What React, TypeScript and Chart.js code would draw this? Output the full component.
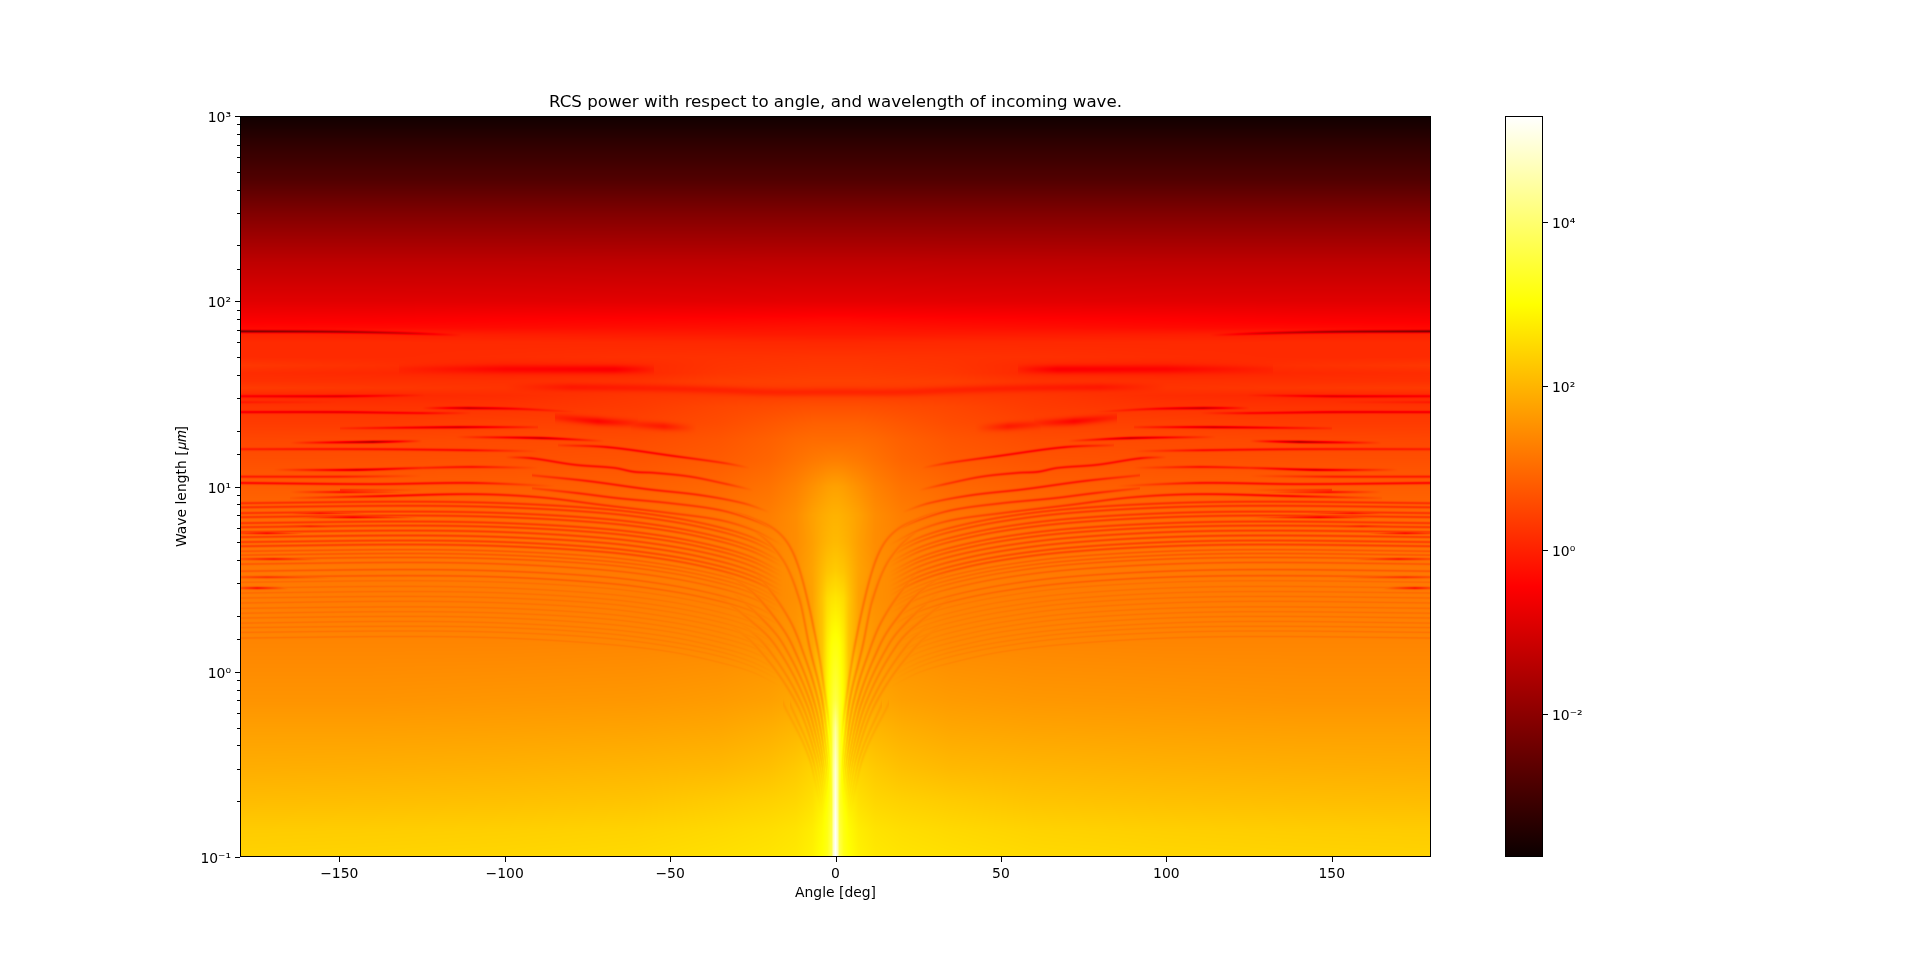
import React, { useEffect, useRef } from "react";
import { Chart, registerables } from "chart.js";

Chart.register(...registerables);

const titleText = "RCS power with respect to angle, and wavelength of incoming wave.";
const xLabel = "Angle [deg]";
const yLabel = "Wave length [𝜇𝑚]";
const xTicks = [-150, -100, -50, 0, 50, 100, 150];
const colorbarTicks = [0.01, 1, 100, 10000];
const colorMin = 1.82e-4;
const colorMax = 1.95e5;

// |angle| columns of the power table (the picture is mirror-symmetric about 0)
const heatAngles = [0, 0.6, 1.2, 2.5, 4, 7, 12, 20, 35, 60, 100, 140, 180];
const heatWavelengths = [1000, 700, 450, 300, 163, 100, 80, 72, 66, 60, 50, 45, 41, 37, 34, 31, 27, 22, 18, 14, 10, 7, 5, 3.5, 2.5, 1.4, 0.7, 0.5, 0.3, 0.2, 0.14, 0.1];
const heatLogPower = [
  [-3.66, -3.66, -3.66, -3.66, -3.66, -3.66, -3.66, -3.66, -3.66, -3.66, -3.66, -3.66, -3.66],
  [-3.23, -3.23, -3.23, -3.23, -3.23, -3.23, -3.23, -3.23, -3.23, -3.23, -3.23, -3.23, -3.23],
  [-2.78, -2.78, -2.78, -2.78, -2.78, -2.78, -2.78, -2.78, -2.78, -2.78, -2.78, -2.78, -2.78],
  [-2.16, -2.16, -2.16, -2.16, -2.16, -2.16, -2.16, -2.16, -2.16, -2.16, -2.16, -2.16, -2.16],
  [-1.3, -1.3, -1.3, -1.3, -1.3, -1.3, -1.3, -1.3, -1.31, -1.31, -1.32, -1.32, -1.32],
  [-0.8, -0.8, -0.8, -0.8, -0.8, -0.8, -0.8, -0.81, -0.82, -0.83, -0.84, -0.85, -0.85],
  [-0.35, -0.35, -0.35, -0.35, -0.35, -0.36, -0.37, -0.38, -0.4, -0.42, -0.45, -0.5, -0.52],
  [-0.2, -0.2, -0.2, -0.2, -0.2, -0.2, -0.21, -0.22, -0.24, -0.26, -0.3, -0.33, -0.35],
  [-0.1, -0.1, -0.1, -0.1, -0.1, -0.1, -0.1, -0.1, -0.09, -0.08, -0.05, 0, 0.02],
  [0.08, 0.08, 0.08, 0.08, 0.08, 0.08, 0.09, 0.09, 0.1, 0.1, 0.11, 0.12, 0.12],
  [0.25, 0.25, 0.25, 0.25, 0.25, 0.25, 0.24, 0.23, 0.22, 0.2, 0.15, 0.12, 0.12],
  [0.3, 0.3, 0.3, 0.3, 0.3, 0.3, 0.29, 0.28, 0.25, 0.12, 0.05, 0.2, 0.3],
  [0.35, 0.35, 0.35, 0.35, 0.35, 0.35, 0.34, 0.32, 0.28, 0.1, 0.05, 0.1, 0.15],
  [0.42, 0.42, 0.42, 0.42, 0.42, 0.42, 0.41, 0.4, 0.38, 0.25, 0.2, 0.2, 0.2],
  [0.38, 0.38, 0.38, 0.38, 0.38, 0.38, 0.38, 0.37, 0.36, 0.3, 0.25, 0.3, 0.35],
  [0.42, 0.42, 0.42, 0.42, 0.42, 0.42, 0.41, 0.4, 0.36, 0.3, 0.15, 0.1, 0.1],
  [0.62, 0.62, 0.62, 0.62, 0.62, 0.62, 0.6, 0.56, 0.5, 0.35, 0.25, 0.25, 0.25],
  [0.85, 0.85, 0.85, 0.85, 0.85, 0.84, 0.8, 0.72, 0.58, 0.45, 0.42, 0.35, 0.35],
  [1.0, 1.0, 1.0, 1.0, 1.0, 1.0, 0.96, 0.85, 0.7, 0.58, 0.55, 0.52, 0.5],
  [1.25, 1.25, 1.25, 1.24, 1.22, 1.18, 1.08, 0.92, 0.78, 0.68, 0.64, 0.62, 0.62],
  [1.72, 1.72, 1.71, 1.68, 1.62, 1.5, 1.3, 1.1, 0.95, 0.85, 0.82, 0.8, 0.8],
  [1.95, 1.95, 1.94, 1.9, 1.85, 1.72, 1.45, 1.25, 1.12, 1.03, 1.0, 0.98, 0.98],
  [2.05, 2.05, 2.03, 1.98, 1.9, 1.7, 1.45, 1.32, 1.22, 1.16, 1.14, 1.12, 1.12],
  [2.3, 2.28, 2.25, 2.2, 2.05, 1.75, 1.5, 1.36, 1.27, 1.22, 1.2, 1.18, 1.18],
  [2.65, 2.62, 2.6, 2.5, 2.2, 1.72, 1.5, 1.38, 1.3, 1.26, 1.24, 1.23, 1.23],
  [3.1, 3.08, 3.02, 2.75, 2.2, 1.78, 1.6, 1.5, 1.42, 1.38, 1.36, 1.36, 1.36],
  [3.6, 3.5, 3.3, 2.9, 2.3, 1.98, 1.82, 1.72, 1.65, 1.6, 1.58, 1.55, 1.55],
  [4.4, 4.0, 3.4, 3.0, 2.4, 2.12, 2.0, 1.9, 1.8, 1.75, 1.72, 1.7, 1.7],
  [4.9, 4.4, 3.5, 3.0, 2.65, 2.4, 2.27, 2.15, 2.05, 2.0, 1.95, 1.92, 1.9],
  [5.1, 4.5, 3.5, 3.1, 2.8, 2.58, 2.45, 2.38, 2.3, 2.2, 2.15, 2.12, 2.1],
  [5.25, 4.7, 3.6, 3.15, 2.95, 2.75, 2.62, 2.55, 2.48, 2.4, 2.35, 2.32, 2.3],
  [5.29, 4.8, 3.7, 3.2, 3.02, 2.82, 2.7, 2.64, 2.58, 2.5, 2.45, 2.42, 2.4],
];

// Fringes: [ |angles| ], [ wavelengths ], [ dip of log10(power) ]
type Fringe = [number[], number[], number[]];
const broadFringes: Fringe[] = [
  [[132, 100, 67, 55], [43, 43, 42.9, 42.9], [0.1, 0.45, 0.6, 0.15]],
  [[0, 20, 35, 55, 80, 100], [32.3, 32.3, 33.1, 33.9, 34.3, 34.3], [0.35, 0.35, 0.35, 0.35, 0.4, 0]],
  [[85, 72, 60], [23.6, 22.5, 21.9], [0.3, 0.8, 0.3]],
  [[62, 52, 42], [21.7, 21.1, 20.6], [0.3, 0.6, 0]],
];
const strongFringes: Fringe[] = [
  [[180, 150, 130, 113], [68.8, 68.4, 67.2, 65.5], [2, 1.5, 0.9, 0]],
  [[180, 150, 124], [30.7, 30.7, 31.1], [0.6, 0.9, 0]],
  [[180, 150], [28.5, 28.5], [0.3, 0]],
  [[180, 150, 125, 110], [25.2, 25.2, 24.9, 24.9], [0.9, 1, 0.7, 0]],
  [[125, 111, 95, 78], [26.5, 26.5, 26.2, 25.2], [0, 1.4, 0.6, 0]],
  [[150, 114, 90], [20.6, 20.9, 20.9], [0.2, 1.4, 0.2]],
  [[165, 140, 125], [17.2, 17.4, 17.6], [0, 2, 0]],
  [[115, 89, 70], [18.5, 18.25, 17.6], [0, 1.6, 0]],
  [[84, 69, 49, 34, 26], [16.7, 16.3, 14.6, 13.4, 12.6], [0.2, 1, 1, 0.6, 0]],
  [[180, 140, 111, 90], [15.9, 15.9, 15.7, 15.5], [0.6, 0.8, 0.9, 0]],
  [[100, 92, 79, 67, 61, 55, 44, 33, 25], [14.4, 14.2, 13.1, 12.6, 12.0, 11.85, 11.3, 10.3, 9.55], [0, 0.9, 0.9, 0.9, 1, 0.9, 0.8, 0.6, 0]],
  [[92, 75, 57, 41, 28, 20], [11.5, 10.7, 9.67, 8.98, 8.12, 7.27], [0.4, 0.9, 0.9, 0.8, 0.5, 0]],
  [[170, 145, 125, 110, 90], [12.3, 12.3, 12.6, 12.75, 12.6], [0, 1.6, 0.6, 0.9, 0]],
  [[180, 140, 110, 85], [10.45, 10.3, 10.45, 10.05], [1.1, 1, 1, 0]],
  [[92, 78, 66, 50, 35, 25, 17], [9.79, 9.2, 8.65, 8.12, 7.45, 6.58, 5.67], [0.3, 0.8, 0.8, 0.7, 0.6, 0.4, 0]],
  [[165, 138, 110, 90, 70, 50, 35, 25, 16], [8.65, 8.87, 9.09, 8.76, 7.92, 7.18, 6.58, 5.81, 4.82], [0.1, 1.2, 1, 0.8, 0.7, 0.6, 0.5, 0.3, 0]],
  [[180, 150, 125], [11.3, 11.3, 11.4], [0.8, 0.8, 0]],
  [[150, 125], [9.55, 9.55], [0.8, 0]],
  // short dark spots near the ±180° edges
  [[165, 149, 130], [9.33, 9.33, 9.33], [0, 1.1, 0]],
  [[170, 156, 140], [7.18, 7.18, 7.18], [0, 1.2, 0]],
  [[165, 146, 125], [6.83, 6.83, 6.83], [0, 1.5, 0]],
  [[175, 159, 140], [6.1, 6.1, 6.1], [0, 1, 0]],
  [[180, 172, 160], [5.6, 5.6, 5.6], [0.6, 1.4, 0]],
  [[180, 170, 155], [4.06, 4.06, 4.06], [0.5, 1.2, 0]],
  [[180, 172, 150], [3.24, 3.24, 3.24], [0.5, 0.9, 0]],
  [[180, 175, 165], [2.83, 2.83, 2.83], [0.6, 1.4, 0]],
];
const fringeAngles = [180, 130, 100, 70, 50, 35, 25, 16];
const mediumDips = [0.7, 0.7, 0.7, 0.65, 0.6, 0.5, 0.35, 0];
const weakDips = [0.4, 0.4, 0.4, 0.35, 0.3, 0.25, 0.15, 0];
const faintDips = [0.22, 0.2, 0.18, 0.16, 0.14, 0.12, 0.08, 0];
const mediumFringes = [
  [8.12, 8.28, 8.12, 7.55, 6.82, 6.01, 5.28, 4.38],
  [7.72, 7.87, 7.72, 7.18, 6.48, 5.71, 5.02, 4.17],
  [7.18, 7.32, 7.18, 6.68, 6.03, 5.31, 4.67, 3.88],
  [6.83, 6.97, 6.83, 6.35, 5.74, 5.05, 4.44, 3.69],
  [6.34, 6.47, 6.34, 5.9, 5.33, 4.69, 4.12, 3.42],
  [6.03, 6.15, 6.03, 5.61, 5.07, 4.46, 3.92, 3.26],
  [5.67, 5.78, 5.67, 5.27, 4.76, 4.2, 3.69, 3.06],
  [5.33, 5.44, 5.33, 4.96, 4.48, 3.94, 3.46, 2.88],
  [5.01, 5.11, 5.01, 4.66, 4.21, 3.71, 3.26, 2.71],
  [4.76, 4.86, 4.76, 4.43, 4.0, 3.52, 3.09, 2.57],
];
const weakFringes = [
  [4.47, 4.56, 4.47, 4.16, 3.75, 3.31, 2.91, 2.41],
  [4.26, 4.35, 4.26, 3.96, 3.58, 3.15, 2.77, 2.3],
  [4.06, 4.14, 4.06, 3.78, 3.41, 3.0, 2.64, 2.19],
  [3.81, 3.89, 3.81, 3.54, 3.2, 2.82, 2.48, 2.06],
  [3.49, 3.56, 3.49, 3.25, 2.93, 2.58, 2.27, 1.88],
  [3.24, 3.3, 3.24, 3.01, 2.72, 2.4, 2.11, 1.75],
];
const faintFringes = [
  [3.04, 3.1, 3.04, 2.83, 2.55, 2.25, 1.98, 1.64],
  [2.83, 2.89, 2.83, 2.63, 2.38, 2.09, 1.84, 1.53],
  [2.66, 2.71, 2.66, 2.47, 2.23, 1.97, 1.73, 1.44],
  [2.5, 2.55, 2.5, 2.33, 2.1, 1.85, 1.63, 1.35],
  [2.35, 2.4, 2.35, 2.19, 1.97, 1.74, 1.53, 1.27],
  [2.2, 2.24, 2.2, 2.05, 1.85, 1.63, 1.43, 1.19],
  [2.07, 2.11, 2.07, 1.93, 1.74, 1.53, 1.35, 1.12],
  [1.95, 1.99, 1.95, 1.81, 1.64, 1.44, 1.27, 1.05],
  [1.83, 1.87, 1.83, 1.7, 1.54, 1.35, 1.19, 0.99],
  [1.73, 1.76, 1.73, 1.61, 1.45, 1.28, 1.12, 0.93],
  [1.63, 1.66, 1.63, 1.52, 1.37, 1.21, 1.06, 0.88],
  [1.52, 1.55, 1.52, 1.41, 1.28, 1.12, 0.99, 0.82],
];
const centreArcs: Fringe[] = [
  [[50, 35, 25, 16, 11, 5.6, 2.3, 1], [7.92, 7.45, 6.71, 5.33, 3.53, 1.36, 0.569, 0.364], [0, 0.12, 0.22, 0.35, 0.45, 0.55, 0.4, 0]],
  [[35, 25, 16, 11, 8, 4, 2, 1], [6.58, 5.81, 4.0, 2.43, 1.36, 0.677, 0.338, 0.168], [0, 0.15, 0.3, 0.4, 0.5, 0.55, 0.35, 0]],
  [[30, 20, 14, 10.5, 5.2, 2.6, 1.3], [4.53, 2.76, 1.9, 1.36, 0.677, 0.338, 0.168], [0, 0.22, 0.36, 0.42, 0.5, 0.4, 0]],
  [[40, 26, 18, 13, 6.5, 3.2, 1.6], [4.0, 2.76, 1.9, 1.36, 0.677, 0.338, 0.168], [0, 0.2, 0.32, 0.38, 0.45, 0.4, 0]],
  [[32, 22, 15.5, 7.7, 3.9, 1.9], [2.76, 1.9, 1.36, 0.677, 0.338, 0.168], [0, 0.25, 0.32, 0.4, 0.35, 0]],
  [[38, 26, 18, 9, 4.5, 2.2], [2.76, 1.9, 1.36, 0.677, 0.338, 0.168], [0, 0.2, 0.28, 0.35, 0.35, 0]],
  [[30, 21, 10.5, 5.2, 2.6], [1.9, 1.36, 0.677, 0.338, 0.168], [0, 0.2, 0.3, 0.3, 0]],
  [[34, 24, 12, 6, 3], [1.9, 1.36, 0.677, 0.338, 0.168], [0, 0.16, 0.25, 0.28, 0]],
  [[14, 7, 3.5], [0.677, 0.338, 0.168], [0.18, 0.25, 0]],
  [[16, 8, 4], [0.677, 0.338, 0.168], [0.14, 0.2, 0]],
];

const FONT = "'DejaVu Sans', sans-serif";
const TICK_SIZE = 13.9;
const AXES = { left: 240, right: 1431, top: 116, bottom: 857 };
const COLORBAR = { left: 1505, right: 1543 };

const rowsOf = (rows: number[][], dips: number[]): Fringe[] => rows.map((r) => [fringeAngles, r, dips]);
// each group: its fringes and their half-thickness in pixels
const fringeGroups: [Fringe[], number][] = [
  [broadFringes, 4],
  [strongFringes, 1.4],
  [rowsOf(mediumFringes, mediumDips), 1.4],
  [rowsOf(weakFringes, weakDips), 1.2],
  [rowsOf(faintFringes, faintDips), 1.05],
  [centreArcs, 1.5],
];

function hot(t: number): [number, number, number] {
  const c = Math.max(0, Math.min(1, t));
  const r = c < 0.365 ? 0.0416 + (c / 0.365) * 0.9584 : 1;
  const g = c < 0.365 ? 0 : c < 0.746 ? (c - 0.365) / 0.381 : 1;
  const b = c < 0.746 ? 0 : (c - 0.746) / 0.254;
  return [r * 255, g * 255, b * 255];
}

function bracket(list: number[], value: number, descending: boolean) {
  for (let i = 0; i < list.length - 1; i++) {
    const a = list[i];
    const b = list[i + 1];
    if (descending ? value >= b : value <= b) return [i, (value - a) / (b - a)];
  }
  return [list.length - 2, 1];
}

const logWavelengths = heatWavelengths.map(Math.log10);

function shadedLogPower(angle: number, logWavelength: number) {
  const [c, u] = bracket(heatAngles, Math.abs(angle), false);
  const [r, v] = bracket(logWavelengths, logWavelength, true);
  const top = heatLogPower[r][c] * (1 - u) + heatLogPower[r][c + 1] * u;
  const low = heatLogPower[r + 1][c] * (1 - u) + heatLogPower[r + 1][c + 1] * u;
  return top * (1 - v) + low * v;
}

const heatmapPlugin = {
  id: "heatmap",
  beforeDatasetsDraw(chart: any) {
    const { ctx, chartArea: a, scales } = chart;
    const w = Math.round(a.right - a.left);
    const h = Math.round(a.bottom - a.top);
    const x0 = Math.round(a.left);
    const y0 = Math.round(a.top);
    const dip = new Float32Array(w * h);
    const xs = scales.x;
    const ys = scales.y;
    for (const [fringes, sigma] of fringeGroups) {
      for (const [angles, waves, depths] of fringes) {
        const order = angles.map((_, i) => i).sort((p, q) => angles[p] - angles[q]);
        const t = order.map((i) => angles[i]);
        const py = order.map((i) => ys.getPixelForValue(waves[i]));
        const d = order.map((i) => depths[i]);
        const n = t.length;
        for (const sign of [-1, 1]) {
          const pxs = t.map((v) => xs.getPixelForValue(sign * v));
          // curve through the read points, as a line's tension would give
          const tan = pxs.map((_, k) => {
            const l = Math.max(0, k - 1);
            const r = Math.min(n - 1, k + 1);
            return (py[r] - py[l]) / (pxs[r] - pxs[l]);
          });
          for (let s = 0; s < n - 1; s++) {
            const pa = pxs[s];
            const pb = pxs[s + 1];
            const span = pb - pa;
            const from = Math.ceil(Math.min(pa, pb));
            const to = Math.floor(Math.max(pa, pb));
            for (let px = from; px <= to; px++) {
              const i = px - x0;
              if (i < 0 || i >= w) continue;
              const f = (px - pa) / span;
              const f2 = f * f;
              const f3 = f2 * f;
              const yc =
                (2 * f3 - 3 * f2 + 1) * py[s] +
                (f3 - 2 * f2 + f) * span * tan[s] +
                (-2 * f3 + 3 * f2) * py[s + 1] +
                (f3 - f2) * span * tan[s + 1];
              const slope =
                (6 * f2 - 6 * f) * (py[s] - py[s + 1]) / span +
                (3 * f2 - 4 * f + 1) * tan[s] +
                (3 * f2 - 2 * f) * tan[s + 1];
              const sv = sigma * Math.sqrt(1 + slope * slope);
              const depth = d[s] + f * (d[s + 1] - d[s]);
              const j0 = Math.max(0, Math.floor(yc - 3 * sv) - y0);
              const j1 = Math.min(h - 1, Math.ceil(yc + 3 * sv) - y0);
              for (let j = j0; j <= j1; j++) {
                const dy = (y0 + j + 0.5 - yc) / sv;
                dip[j * w + i] = Math.max(dip[j * w + i], depth * Math.exp(-dy * dy));
              }
            }
          }
        }
      }
    }
    const image = ctx.createImageData(w, h);
    const lo = Math.log10(colorMin);
    const hi = Math.log10(colorMax);
    const rows: number[] = [];
    for (let j = 0; j < h; j++) rows.push(Math.log10(ys.getValueForPixel(y0 + j + 0.5)));
    const cols: number[] = [];
    for (let i = 0; i < w; i++) cols.push(xs.getValueForPixel(x0 + i + 0.5));
    for (let j = 0; j < h; j++) {
      for (let i = 0; i < w; i++) {
        const power = shadedLogPower(cols[i], rows[j]) - dip[j * w + i];
        const [r, g, b] = hot((power - lo) / (hi - lo));
        const k = (j * w + i) * 4;
        image.data[k] = r;
        image.data[k + 1] = g;
        image.data[k + 2] = b;
        image.data[k + 3] = 255;
      }
    }
    ctx.putImageData(image, x0, y0);
  },
};

function powerLabel(v: number) {
  const e = Math.log10(v);
  if (Math.abs(e - Math.round(e)) > 1e-6) return "";
  const sup: Record<string, string> = { "-": "⁻", "0": "⁰", "1": "¹", "2": "²", "3": "³", "4": "⁴" };
  return "10" + String(Math.round(e)).split("").map((c) => sup[c]).join("");
}

// the blank first line nudges the label down, as the raised exponent does in the reference
const tickLabel = (v: any) => {
  const text = powerLabel(Number(v));
  return text ? ["", text] : "";
};

function drawTicks(ctx: any, scale: any, side: "left" | "bottom" | "right") {
  const a = scale.chart.chartArea;
  ctx.save();
  ctx.strokeStyle = "#000";
  ctx.lineWidth = 1;
  ctx.beginPath();
  for (const t of scale.ticks) {
    if (side === "bottom" && !xTicks.includes(t.value)) continue;
    const major = side !== "left" || powerLabel(t.value) !== "";
    const len = major ? 5 : 3;
    const p = Math.round(scale.getPixelForValue(t.value)) + 0.5;
    if (side === "bottom") {
      ctx.moveTo(p, a.bottom);
      ctx.lineTo(p, a.bottom + len);
    } else if (side === "left") {
      ctx.moveTo(a.left, p);
      ctx.lineTo(a.left - len, p);
    } else {
      ctx.moveTo(a.right, p);
      ctx.lineTo(a.right + len, p);
    }
  }
  ctx.stroke();
  ctx.strokeRect(a.left + 0.5, a.top + 0.5, a.right - a.left - 1, a.bottom - a.top - 1);
  ctx.restore();
}

const axesPlugin = {
  id: "axesTicks",
  afterDraw(chart: any) {
    drawTicks(chart.ctx, chart.scales.x, "bottom");
    drawTicks(chart.ctx, chart.scales.y, "left");
  },
};

const colorbarPlugin = {
  id: "colorbar",
  beforeDatasetsDraw(chart: any) {
    const { ctx, chartArea: a, scales } = chart;
    const bottom = scales.y.getPixelForValue(colorMin);
    const top = scales.y.getPixelForValue(colorMax);
    const g = ctx.createLinearGradient(0, bottom, 0, top);
    for (const s of [0, 0.365, 0.746, 1]) {
      const [r, gg, b] = hot(s);
      g.addColorStop(s, `rgb(${r},${gg},${b})`);
    }
    ctx.fillStyle = g;
    ctx.fillRect(a.left, a.top, a.right - a.left, a.bottom - a.top);
  },
  afterDraw(chart: any) {
    drawTicks(chart.ctx, chart.scales.y, "right");
  },
};

export default function App() {
  const mainRef = useRef<HTMLCanvasElement>(null);
  const barRef = useRef<HTMLCanvasElement>(null);

  useEffect(() => {
    Chart.defaults.font.family = FONT;
    Chart.defaults.font.size = TICK_SIZE;
    Chart.defaults.color = "#000";

    const heatCells: any[] = [];
    heatWavelengths.forEach((y, r) =>
      heatAngles.forEach((x, c) => {
        heatCells.push({ x, y, v: 10 ** heatLogPower[r][c] });
        if (x !== 0) heatCells.push({ x: -x, y, v: 10 ** heatLogPower[r][c] });
      })
    );

    const main = new Chart(mainRef.current!, {
      type: "scatter",
      data: { datasets: [{ label: "RCS power", data: heatCells, pointRadius: 0, showLine: false }] },
      options: {
        responsive: false,
        animation: false,
        layout: { padding: { left: 0, right: 1920 - AXES.right, top: 0, bottom: 0 } },
        plugins: {
          legend: { display: false },
          tooltip: { enabled: false },
          title: {
            display: true,
            text: titleText,
            fullSize: false,
            color: "#000",
            font: { family: FONT, size: 16.67, weight: "normal" },
            padding: { top: 93, bottom: 3 },
          },
        },
        scales: {
          x: {
            type: "linear",
            min: -180,
            max: 180,
            grid: { display: false, drawTicks: false },
            border: { display: false },
            afterFit: (s: any) => { s.height = 963 - AXES.bottom; },
            ticks: {
              stepSize: 50,
              includeBounds: false,
              autoSkip: false,
              maxRotation: 0,
              padding: 9,
              callback: (v: any) => (xTicks.includes(v) ? String(v).replace("-", "−") : ""),
            },
            title: { display: true, text: xLabel, color: "#000", font: { family: FONT, size: TICK_SIZE }, padding: { top: 0, bottom: 61 } },
          },
          y: {
            type: "logarithmic",
            min: 0.1,
            max: 1000,
            grid: { display: false, drawTicks: false },
            border: { display: false },
            afterFit: (s: any) => { s.width = AXES.left; },
            ticks: { autoSkip: false, padding: 9, font: { family: FONT, size: TICK_SIZE, lineHeight: 0.36 }, callback: tickLabel },
            title: { display: true, text: yLabel, color: "#000", font: { family: FONT, size: TICK_SIZE }, padding: { top: 174, bottom: 0 } },
          },
        },
      } as any,
      plugins: [heatmapPlugin, axesPlugin],
    });

    const bar = new Chart(barRef.current!, {
      type: "scatter",
      data: { datasets: [{ label: "colour scale", data: colorbarTicks.map((y) => ({ x: 0, y })), pointRadius: 0, showLine: false }] },
      options: {
        responsive: false,
        animation: false,
        layout: { padding: { left: COLORBAR.left, right: 1920 - COLORBAR.right - 100, top: AXES.top, bottom: 963 - AXES.bottom } },
        plugins: { legend: { display: false }, tooltip: { enabled: false } },
        scales: {
          x: { display: false, min: 0, max: 1 },
          y: {
            type: "logarithmic",
            position: "right",
            min: colorMin,
            max: colorMax,
            grid: { display: false, drawTicks: false },
            border: { display: false },
            afterFit: (s: any) => { s.width = 100; },
            afterBuildTicks: (s: any) => { s.ticks = colorbarTicks.map((value) => ({ value, major: true })); },
            ticks: { autoSkip: false, padding: 9, font: { family: FONT, size: TICK_SIZE, lineHeight: 0.36 }, callback: tickLabel },
          },
        },
      } as any,
      plugins: [colorbarPlugin],
    });

    return () => {
      main.destroy();
      bar.destroy();
    };
  }, []);

  const style: React.CSSProperties = { position: "absolute", left: 0, top: 0, width: 1920, height: 963 };
  return (
    <div style={{ position: "absolute", left: 0, top: 0, width: 1920, height: 963, background: "#fff", overflow: "hidden" }}>
      <canvas ref={mainRef} width={1920} height={963} style={style} />
      <canvas ref={barRef} width={1920} height={963} style={style} />
    </div>
  );
}
